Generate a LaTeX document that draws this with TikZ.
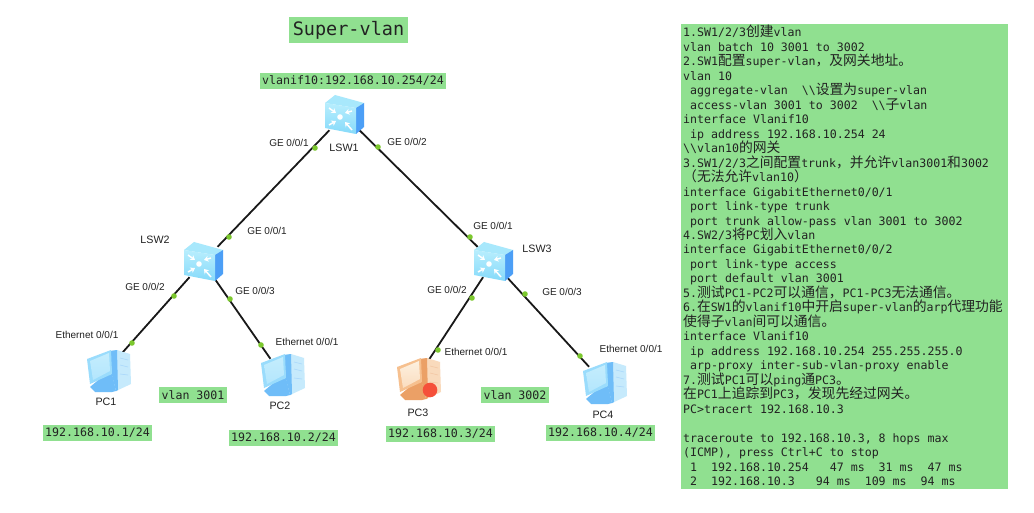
\documentclass[tikz,border=0pt]{standalone}
\usepackage{fontspec}
\usetikzlibrary{arrows.meta}
\setmainfont{Liberation Sans}
\newfontfamily\monof{DejaVu Sans Mono}
\newfontfamily\cjk{Noto Sans CJK SC}
\newcommand{\zh}[1]{{\fontsize{13.8}{14.48}\selectfont\cjk #1}}
\newcommand{\bsl}{\textbackslash\textbackslash}
\definecolor{gbox}{HTML}{90E090}
\definecolor{ink}{HTML}{222222}
\definecolor{dotg}{HTML}{7CC82E}
\definecolor{alarm}{HTML}{F5503A}
\newcommand{\swicon}[1]{%
\begin{scope}[shift={(#1)}]
 \fill[fill=swtop] (-19,-12) -- (-9,-20) -- (20,-12) -- (12,-7) -- cycle;
 \fill[fill=swside] (12,-7) -- (20,-12) -- (20,12) -- (12,19) -- cycle;
 \shade[top color=swfa,bottom color=swfb] (-19,-12) -- (12,-7) -- (12,19) -- (-19,13) -- cycle;
 \fill[white] (-4,2) circle (2.8);
 \foreach \a/\b/\c/\d in {-15/-7/-8/-2,8/-4/1/-2,-15/10/-8/6,8/15/1/7}{
   \draw[white,line width=1.5,-{Stealth[length=4.5pt,width=6pt]}] (\a,\b) -- (\c,\d);
 }
\end{scope}}
\newcommand{\pcicon}[5]{%
\begin{scope}[shift={(#1)}]
 \fill[#5] (3,-19) -- (10,-20) -- (23,-16) -- (24,14) -- (9,21) -- (5,5) -- cycle;
 \fill[#3] (3,-19) -- (10,-20) -- (11,20) -- (9,21) -- (5,5) -- cycle;
 \fill[#3] (-17,17) -- (-4,6) -- (5,4) -- (9,21) -- (5,22) -- (-12,22) -- cycle;
 \draw[#3!60!white,line width=.6] (13,-12) -- (21,-10) (13,-5) -- (21,-3) (13,4) -- (21,5);
 \fill[#2] (-20,-11) -- (4,-20) -- (5,4) -- (-17,14) -- cycle;
 \shade[top color=#4,bottom color=#4!60!#2] (-17,-9) -- (2,-17) -- (3,1) -- (-14,10) -- cycle;
\end{scope}}
\definecolor{swtop}{HTML}{A8E8FC}
\definecolor{swside}{HTML}{4C9FF6}
\definecolor{swfa}{HTML}{B8EEFD}
\definecolor{swfb}{HTML}{86DAFA}
\definecolor{pcbm}{HTML}{9ADCFC}
\definecolor{pcbd}{HTML}{6FBDF8}
\definecolor{pcbl}{HTML}{C4EDFD}
\definecolor{pcbt}{HTML}{C6EAFC}
\definecolor{pcom}{HTML}{F6C08F}
\definecolor{pcod}{HTML}{EBA066}
\definecolor{pcol}{HTML}{FDF0DF}
\definecolor{pcot}{HTML}{F9DABC}
\tikzset{
 x=1pt,y=-1pt,
 greenbox/.style={fill=gbox,inner sep=0pt,text=ink,font=\fontsize{11.6}{14}\selectfont\monof,minimum height=16pt},
 panel/.style={fill=gbox,anchor=north west,inner sep=0pt,minimum width=327pt,minimum height=465pt},
 paneltext/.style={anchor=west,inner sep=0pt,align=left,text=ink,font=\fontsize{11.6}{14.48}\selectfont\monof},
 portlabel/.style={font=\fontsize{10}{12}\selectfont,text=ink,inner sep=0pt},
 devlabel/.style={font=\fontsize{10.7}{12}\selectfont,text=ink,inner sep=0pt},
 device/.style={inner sep=0pt,minimum width=30pt,minimum height=30pt},
 link/.style={draw=black!90,line width=1.8pt},
 portdot/.style={circle,fill=dotg,inner sep=0pt,minimum size=5.6pt},
}
\begin{document}
\begin{tikzpicture}
\useasboundingbox (0,0) rectangle (1034,513);
\fill[white] (0,0) rectangle (1034,513);
% device anchors
\node[device] (lsw1) at (344,115) {};
\node[device] (lsw2) at (203,262) {};
\node[device] (lsw3) at (493,262) {};
\node[device] (pc1) at (107,370) {};
\node[device] (pc2) at (281,374) {};
\node[device] (pc3) at (417,378) {};
\node[device] (pc4) at (603,382) {};
% links
\draw[link] (lsw1) -- (lsw2);
\draw[link] (lsw1) -- (lsw3);
\draw[link] (lsw2) -- (pc1);
\draw[link] (lsw2) -- (pc2);
\draw[link] (lsw3) -- (pc3);
\draw[link] (lsw3) -- (pc4);
% icons
\swicon{lsw1}\swicon{lsw2}\swicon{lsw3}
\pcicon{pc1}{pcbm}{pcbd}{pcbl}{pcbt}
\pcicon{pc2}{pcbm}{pcbd}{pcbl}{pcbt}
\pcicon{pc3}{pcom}{pcod}{pcol}{pcot}
\pcicon{pc4}{pcbm}{pcbd}{pcbl}{pcbt}
\fill[alarm] (430,390) circle (7.3);
% port dots
\node[portdot] (d1) at (315,148) {};
\node[portdot] (d2) at (378,147) {};
\node[portdot] (d3) at (229,237) {};
\node[portdot] (d4) at (470,237) {};
\node[portdot] (d5) at (174,296) {};
\node[portdot] (d6) at (230,299) {};
\node[portdot] (d7) at (472,298) {};
\node[portdot] (d8) at (525,294) {};
\node[portdot] (d9) at (132,343) {};
\node[portdot] (d10) at (261,345) {};
\node[portdot] (d11) at (438,350) {};
\node[portdot] (d12) at (580,356) {};
% port labels
\node[portlabel] (g1) at (289,143) {GE 0/0/1};
\node[portlabel] (g2) at (407,142) {GE 0/0/2};
\node[portlabel] (g3) at (267,231) {GE 0/0/1};
\node[portlabel] (g4) at (145,287) {GE 0/0/2};
\node[portlabel] (g5) at (255,291) {GE 0/0/3};
\node[portlabel] (g6) at (493,226) {GE 0/0/1};
\node[portlabel] (g7) at (447,290) {GE 0/0/2};
\node[portlabel] (g8) at (562,292) {GE 0/0/3};
\node[portlabel] (e1) at (87,335) {Ethernet 0/0/1};
\node[portlabel] (e2) at (307,342) {Ethernet 0/0/1};
\node[portlabel] (e3) at (476,352) {Ethernet 0/0/1};
\node[portlabel] (e4) at (631,349) {Ethernet 0/0/1};
% device labels
\node[devlabel] (n1) at (344,148) {LSW1};
\node[devlabel] (n2) at (155,240) {LSW2};
\node[devlabel] (n3) at (537,249) {LSW3};
\node[devlabel] (n4) at (106,402) {PC1};
\node[devlabel] (n5) at (280,406) {PC2};
\node[devlabel] (n6) at (418,413) {PC3};
\node[devlabel] (n7) at (603,415) {PC4};
% green labels
\node[greenbox,minimum width=119pt,minimum height=26pt,font=\fontsize{18.5}{20}\selectfont\monof] (title) at (348.5,30) {Super-vlan};
\node[greenbox,minimum width=186pt] (vif) at (353,81) {vlanif10:192.168.10.254/24};
\node[greenbox,minimum width=68pt] (v1) at (193,395) {vlan 3001};
\node[greenbox,minimum width=68pt] (v2) at (515,395) {vlan 3002};
\node[greenbox,minimum width=109pt] (ip1) at (97.5,433) {192.168.10.1/24};
\node[greenbox,minimum width=109pt] (ip2) at (283.5,438) {192.168.10.2/24};
\node[greenbox,minimum width=109pt] (ip3) at (440.5,434) {192.168.10.3/24};
\node[greenbox,minimum width=109pt] (ip4) at (600.5,433) {192.168.10.4/24};
% config panel
\node[panel] (cfgbox) at (681,24) {};
\node[paneltext] (cfg) at (683,255.5) {\spaceskip=0pt\xspaceskip=0pt\frenchspacing
1.SW1/2/3\zh{创建}vlan\\
vlan batch 10 3001 to 3002\\
2.SW1\zh{配置}super-vlan\zh{，及网关地址。}\\
vlan 10\\
~aggregate-vlan ~\bsl\zh{设置为}super-vlan\\
~access-vlan 3001 to 3002 ~\bsl\zh{子}vlan\\
interface Vlanif10\\
~ip address 192.168.10.254 24\\
\bsl vlan10\zh{的网关}\\
3.SW1/2/3\zh{之间配置}trunk\zh{，并允许}vlan3001\zh{和}3002\\
\zh{（无法允许}vlan10\zh{）}\\
interface GigabitEthernet0/0/1\\
~port link-type trunk\\
~port trunk allow-pass vlan 3001 to 3002\\
4.SW2/3\zh{将}PC\zh{划入}vlan\\
interface GigabitEthernet0/0/2\\
~port link-type access\\
~port default vlan 3001\\
5.\zh{测试}PC1-PC2\zh{可以通信，}PC1-PC3\zh{无法通信。}\\
6.\zh{在}SW1\zh{的}vlanif10\zh{中开启}super-vlan\zh{的}arp\zh{代理功能}\\
\zh{使得子}vlan\zh{间可以通信。}\\
interface Vlanif10\\
~ip address 192.168.10.254 255.255.255.0\\
~arp-proxy inter-sub-vlan-proxy enable\\
7.\zh{测试}PC1\zh{可以}ping\zh{通}PC3\zh{。}\\
\zh{在}PC1\zh{上追踪到}PC3\zh{，发现先经过网关。}\\
PC>tracert 192.168.10.3\\
~\\
traceroute to 192.168.10.3, 8 hops max\\
(ICMP), press Ctrl+C to stop\\
~1 ~192.168.10.254 ~~47 ms ~31 ms ~47 ms\\
~2 ~192.168.10.3 ~~94 ms ~109 ms ~94 ms};
\end{tikzpicture}
\end{document}
